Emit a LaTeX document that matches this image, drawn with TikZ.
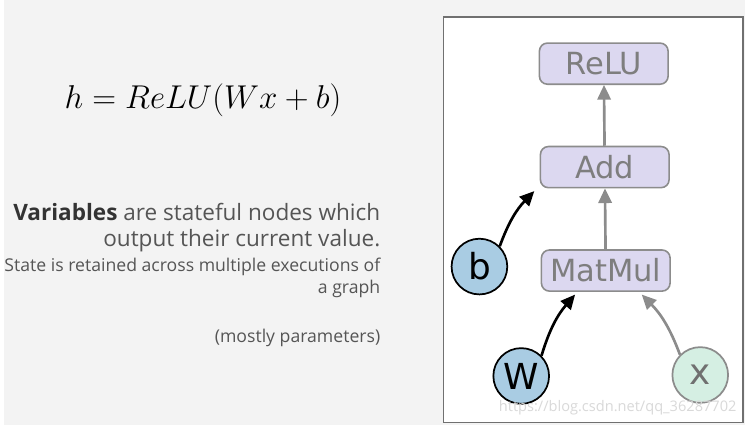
\documentclass[tikz,border=0pt]{standalone}
\usepackage{fontspec}
\setmainfont{Open Sans}
\newfontfamily\nodefont{DejaVu Sans}
\usetikzlibrary{positioning,arrows.meta}
\definecolor{bgray}{HTML}{F3F3F3}
\definecolor{opfill}{HTML}{DCD8F0}
\definecolor{opline}{HTML}{8C8C8C}
\definecolor{varfill}{HTML}{A9CCE3}
\definecolor{inpfill}{HTML}{D5EFE3}
\definecolor{txtgray}{HTML}{555555}
\tikzset{
  op/.style={draw=opline, line width=1.2pt, fill=opfill, rounded corners=6pt,
    minimum width=97pt, minimum height=31pt, inner sep=1pt, font=\nodefont\fontsize{23}{23}\selectfont, text=opline!90!black},
  var/.style={circle, draw=black, line width=1.3pt, fill=varfill, minimum size=42pt, inner sep=0pt,
    font=\nodefont\fontsize{27}{27}\selectfont},
  inp/.style={var, draw=opline, fill=inpfill, text=opline!80!black},
  flow/.style={-{Triangle[length=11pt,width=10pt]}, line width=2pt, opline},
  feed/.style={-{Triangle[length=11pt,width=10pt]}, line width=2pt, black},
}
\begin{document}
\begin{tikzpicture}[x=0.75pt,y=-0.75pt]
\fill[bgray] (0,0) rectangle (745,427);
\draw[fill=white, draw=opline!80!black, line width=1pt] (442,17) rectangle (743,425);
% formula and text
\node (eq) at (200,101) {\fontsize{23}{23}\selectfont $h = ReLU(Wx+b)$};
\node[anchor=east, text=txtgray, font=\fontsize{17}{17}\selectfont] (l1) at (383,213) {\textbf{\color{black!80}Variables} are stateful nodes which};
\node[anchor=east, text=txtgray, font=\fontsize{17}{17}\selectfont] (l2) at (383,242) {output their current value.};
\node[anchor=east, text=txtgray, font=\fontsize{13.3}{13.3}\selectfont] (l3) at (383,268) {State is retained across multiple executions of};
\node[anchor=east, text=txtgray, font=\fontsize{13.3}{13.3}\selectfont] (l4) at (383,290) {a graph};
\node[anchor=east, text=txtgray, font=\fontsize{13.3}{13.3}\selectfont] (l5) at (383,340) {(mostly parameters)};
% graph
\node[op] (relu) at (603,64) {ReLU};
\node[op] (add) at (604,168) {Add};
\node[op] (matmul) at (605,272) {MatMul};
\node[var] (b) at (478,268) {b};
\node[var] (w) at (520,378) {W};
\node[inp] (x) at (700,377) {x};
\draw[flow] (add) -- (relu);
\draw[flow] (matmul) -- (add);
\draw[feed] (b.north east) to[bend left=12] ([xshift=-4pt,yshift=-2pt]add.south west);
\draw[feed] (w.north east) to[bend left=12] ([xshift=26pt,yshift=-2pt]matmul.south west);
\draw[flow] (x.north west) to[bend right=12] ([xshift=-22pt,yshift=-2pt]matmul.south east);
\node[text=black!15, font=\fontsize{11}{11}\selectfont] (mark) at (617,410) {https://blog.csdn.net/qq\_36287702};
\end{tikzpicture}
\end{document}
